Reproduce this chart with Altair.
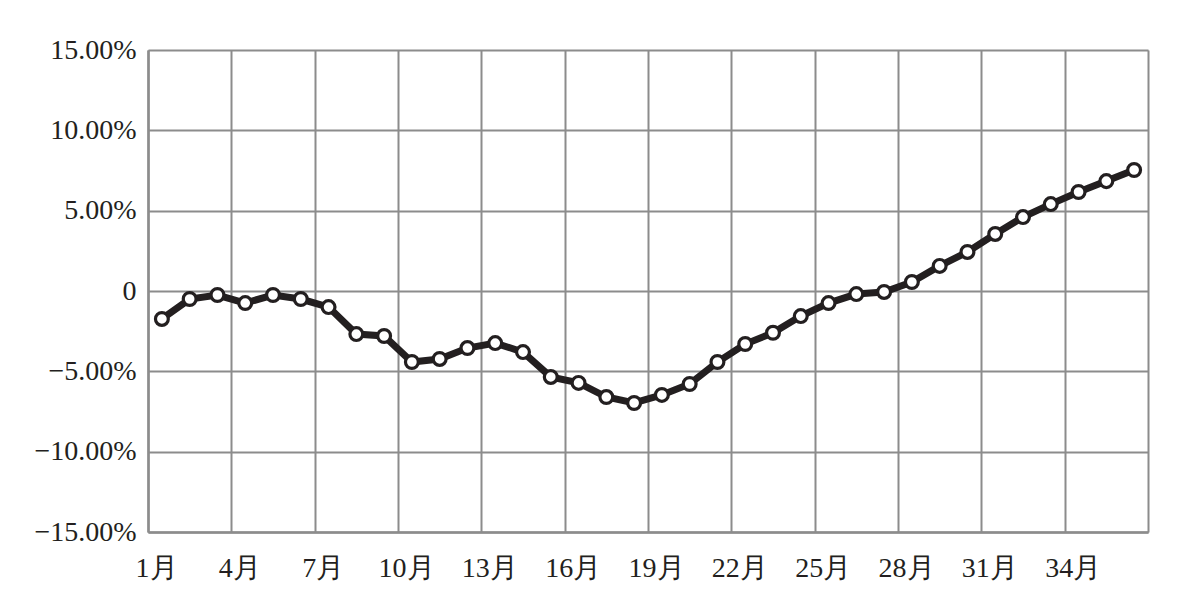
import altair as alt
import pandas as pd

months = list(range(1, 37))
values = [-1.74, -0.50, -0.25, -0.75, -0.25, -0.50, -1.00, -2.68, -2.80,
          -4.42, -4.23, -3.55, -3.24, -3.80, -5.35, -5.72, -6.60, -6.97,
          -6.47, -5.79, -4.42, -3.30, -2.60, -1.56, -0.75, -0.19, -0.06,
          0.56, 1.56, 2.43, 3.55, 4.60, 5.41, 6.16, 6.84, 7.53]
y_ticks = [-15, -10, -5, 0, 5, 10, 15]
x_grid = [0.5, 3.5, 6.5, 9.5, 12.5, 15.5, 18.5, 21.5, 24.5, 27.5, 30.5, 33.5, 36.5]

df = pd.DataFrame({"month": months, "value": values})

GRID = "#8c8c8c"
INK = "#231f20"
FONT = "Liberation Serif"

x_enc = alt.X(
    "month:Q",
    scale=alt.Scale(domain=[0.5, 36.5], nice=False, zero=False),
    axis=alt.Axis(
        values=x_grid,
        title=None,
        ticks=False,
        grid=True,
        gridColor=GRID,
        gridWidth=2,
        domainColor=GRID,
        domainWidth=2.5,
        labelExpr="datum.value < 36 ? (datum.value + 0.5) + '月' : ''",
        labelOffset=8,
        labelPadding=22,
        labelBaseline="top",
        labelFont=FONT,
        labelFontSize=28,
        labelColor=INK,
        labelFlush=False,
        labelOverlap=False,
    ),
)
y_enc = alt.Y(
    "value:Q",
    scale=alt.Scale(domain=[-15, 15], nice=False),
    axis=alt.Axis(
        values=y_ticks,
        title=None,
        ticks=False,
        grid=True,
        gridColor=GRID,
        gridWidth=2,
        domainColor=GRID,
        domainWidth=2.5,
        labelExpr="datum.value == 0 ? '0' : format(datum.value / 100, '.2%')",
        labelPadding=12,
        labelFont=FONT,
        labelFontSize=28,
        labelColor=INK,
        labelFlush=False,
    ),
)

line = alt.Chart(df).mark_line(color=INK, strokeWidth=7).encode(x=x_enc, y=y_enc)
points = alt.Chart(df).mark_point(
    shape="circle", filled=True, fill="white", stroke=INK, strokeWidth=3.2,
    size=165, opacity=1
).encode(x="month:Q", y="value:Q")

chart = (
    alt.layer(line, points)
    .properties(
        width=1000,
        height=482,
        autosize=alt.AutoSizeParams(type="none"),
        padding={"left": 140, "top": 42, "right": 37, "bottom": 67},
    )
    .configure_view(stroke=None)
    .configure(background="white")
)

chart.save("out.html", embed_options={"renderer": "svg", "actions": False})
